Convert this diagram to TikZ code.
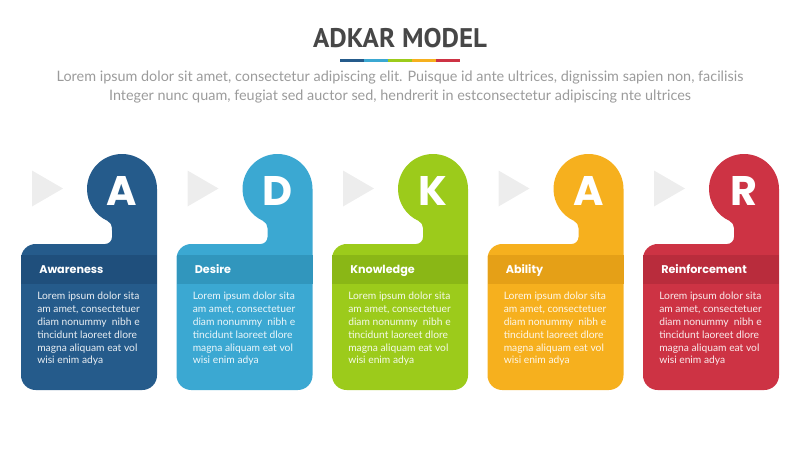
\documentclass[tikz,border=0pt]{standalone}
\usepackage{fontspec}
\usepackage{xcolor}
\usepackage{tikz}
\setmainfont{Lato}
\newfontfamily\popfont{Poppins}
\newfontfamily\ptfont{PT Sans}

\begin{document}
\begin{tikzpicture}[x=0.75pt,y=0.75pt,yscale=-1,xscale=1,
  letter/.style={anchor=base,inner sep=0pt,text=white,font=\popfont\bfseries\fontsize{31}{31}\selectfont},
  headtxt/.style={anchor=base west,inner sep=0pt,text=white,font=\popfont\bfseries\fontsize{8.4}{9}\selectfont},
  bodytxt/.style={anchor=north west,inner sep=0pt,align=left,text=white,text opacity=0.9,font=\fontsize{7.7}{9.6}\selectfont},
  pointer/.style={fill={rgb, 255:red, 237; green, 237; blue, 237 }}]
\useasboundingbox (0,0) rectangle (800,450);

% Text Node
\draw (400,38) node [anchor=center,inner sep=0pt,text={rgb, 255:red, 71; green, 71; blue, 71 },font=\ptfont\bfseries\fontsize{20.2}{21}\selectfont] (title) {ADKAR MODEL};
%Straight Lines
\draw [color={rgb, 255:red, 37; green, 91; blue, 139 },line width=2.25]  (340,60.3) -- (364,60.3) ;
\draw [color={rgb, 255:red, 59; green, 168; blue, 210 },line width=2.25]  (364,60.3) -- (388,60.3) ;
\draw [color={rgb, 255:red, 156; green, 203; blue, 27 },line width=2.25]  (388,60.3) -- (412,60.3) ;
\draw [color={rgb, 255:red, 246; green, 176; blue, 30 },line width=2.25]  (412,60.3) -- (436,60.3) ;
\draw [color={rgb, 255:red, 205; green, 51; blue, 68 },line width=2.25]  (436,60.3) -- (460,60.3) ;
% Text Node
\draw (400,78) node [anchor=center,inner sep=0pt,text={rgb, 255:red, 155; green, 155; blue, 155 },font=\fontsize{10.8}{12}\selectfont] (sub1) {Lorem ipsum dolor sit amet, consectetur adipiscing elit. Puisque id ante ultrices, dignissim sapien non, facilisis};
% Text Node
\draw (400,97) node [anchor=center,inner sep=0pt,text={rgb, 255:red, 155; green, 155; blue, 155 },font=\fontsize{10.8}{12}\selectfont] (sub2) {Integer nunc quam, feugiat sed auctor sed, hendrerit in estconsectetur adipiscing nte ultrices};

%Card A (Awareness)
\begin{scope}[shift={(21,0)}]
\fill [pointer] (11,170.5) -- (42,188.5) -- (11,206.5) -- cycle ;
\fill [color={rgb, 255:red, 37; green, 91; blue, 139 }] (136,300) -- (136,189) arc (0:-245.25:35) arc (-65.25:0:8) -- (91,237) arc (0:90:7) [rounded corners=11] -- (0,244) -- (0,390) -- (136,390) -- cycle ;
\fill [color={rgb, 255:red, 31; green, 79; blue, 124 }] (0,255) rectangle (136,284) ;
\draw (101,205) node [letter] (letA) {A};
\draw (18,273.3) node [headtxt] (headA) {Awareness};
\draw (16,292) node [bodytxt] (txtA) {Lorem ipsum dolor sita\\am amet, consectetuer\\diam nonummy~ nibh e\\tincidunt laoreet dlore\\magna aliquam eat vol\\wisi enim adya};
\end{scope}

%Card D (Desire)
\begin{scope}[shift={(176.5,0)}]
\fill [pointer] (11,170.5) -- (42,188.5) -- (11,206.5) -- cycle ;
\fill [color={rgb, 255:red, 59; green, 168; blue, 210 }] (136,300) -- (136,189) arc (0:-245.25:35) arc (-65.25:0:8) -- (91,237) arc (0:90:7) [rounded corners=11] -- (0,244) -- (0,390) -- (136,390) -- cycle ;
\fill [color={rgb, 255:red, 49; green, 150; blue, 189 }] (0,255) rectangle (136,284) ;
\draw (101,205) node [letter] (letD) {D};
\draw (18,273.3) node [headtxt] (headD) {Desire};
\draw (16,292) node [bodytxt] (txtD) {Lorem ipsum dolor sita\\am amet, consectetuer\\diam nonummy~ nibh e\\tincidunt laoreet dlore\\magna aliquam eat vol\\wisi enim adya};
\end{scope}

%Card K (Knowledge)
\begin{scope}[shift={(332,0)}]
\fill [pointer] (11,170.5) -- (42,188.5) -- (11,206.5) -- cycle ;
\fill [color={rgb, 255:red, 156; green, 203; blue, 27 }] (136,300) -- (136,189) arc (0:-245.25:35) arc (-65.25:0:8) -- (91,237) arc (0:90:7) [rounded corners=11] -- (0,244) -- (0,390) -- (136,390) -- cycle ;
\fill [color={rgb, 255:red, 138; green, 183; blue, 22 }] (0,255) rectangle (136,284) ;
\draw (101,205) node [letter] (letK) {K};
\draw (18,273.3) node [headtxt] (headK) {Knowledge};
\draw (16,292) node [bodytxt] (txtK) {Lorem ipsum dolor sita\\am amet, consectetuer\\diam nonummy~ nibh e\\tincidunt laoreet dlore\\magna aliquam eat vol\\wisi enim adya};
\end{scope}

%Card A (Ability)
\begin{scope}[shift={(487.5,0)}]
\fill [pointer] (11,170.5) -- (42,188.5) -- (11,206.5) -- cycle ;
\fill [color={rgb, 255:red, 246; green, 176; blue, 30 }] (136,300) -- (136,189) arc (0:-245.25:35) arc (-65.25:0:8) -- (91,237) arc (0:90:7) [rounded corners=11] -- (0,244) -- (0,390) -- (136,390) -- cycle ;
\fill [color={rgb, 255:red, 229; green, 160; blue, 23 }] (0,255) rectangle (136,284) ;
\draw (101,205) node [letter] (letAb) {A};
\draw (18,273.3) node [headtxt] (headAb) {Ability};
\draw (16,292) node [bodytxt] (txtAb) {Lorem ipsum dolor sita\\am amet, consectetuer\\diam nonummy~ nibh e\\tincidunt laoreet dlore\\magna aliquam eat vol\\wisi enim adya};
\end{scope}

%Card R (Reinforcement)
\begin{scope}[shift={(643,0)}]
\fill [pointer] (11,170.5) -- (42,188.5) -- (11,206.5) -- cycle ;
\fill [color={rgb, 255:red, 205; green, 51; blue, 68 }] (136,300) -- (136,189) arc (0:-245.25:35) arc (-65.25:0:8) -- (91,237) arc (0:90:7) [rounded corners=11] -- (0,244) -- (0,390) -- (136,390) -- cycle ;
\fill [color={rgb, 255:red, 185; green, 44; blue, 60 }] (0,255) rectangle (136,284) ;
\draw (101,205) node [letter] (letR) {R};
\draw (18,273.3) node [headtxt] (headR) {Reinforcement};
\draw (16,292) node [bodytxt] (txtR) {Lorem ipsum dolor sita\\am amet, consectetuer\\diam nonummy~ nibh e\\tincidunt laoreet dlore\\magna aliquam eat vol\\wisi enim adya};
\end{scope}
\end{tikzpicture}
\end{document}
